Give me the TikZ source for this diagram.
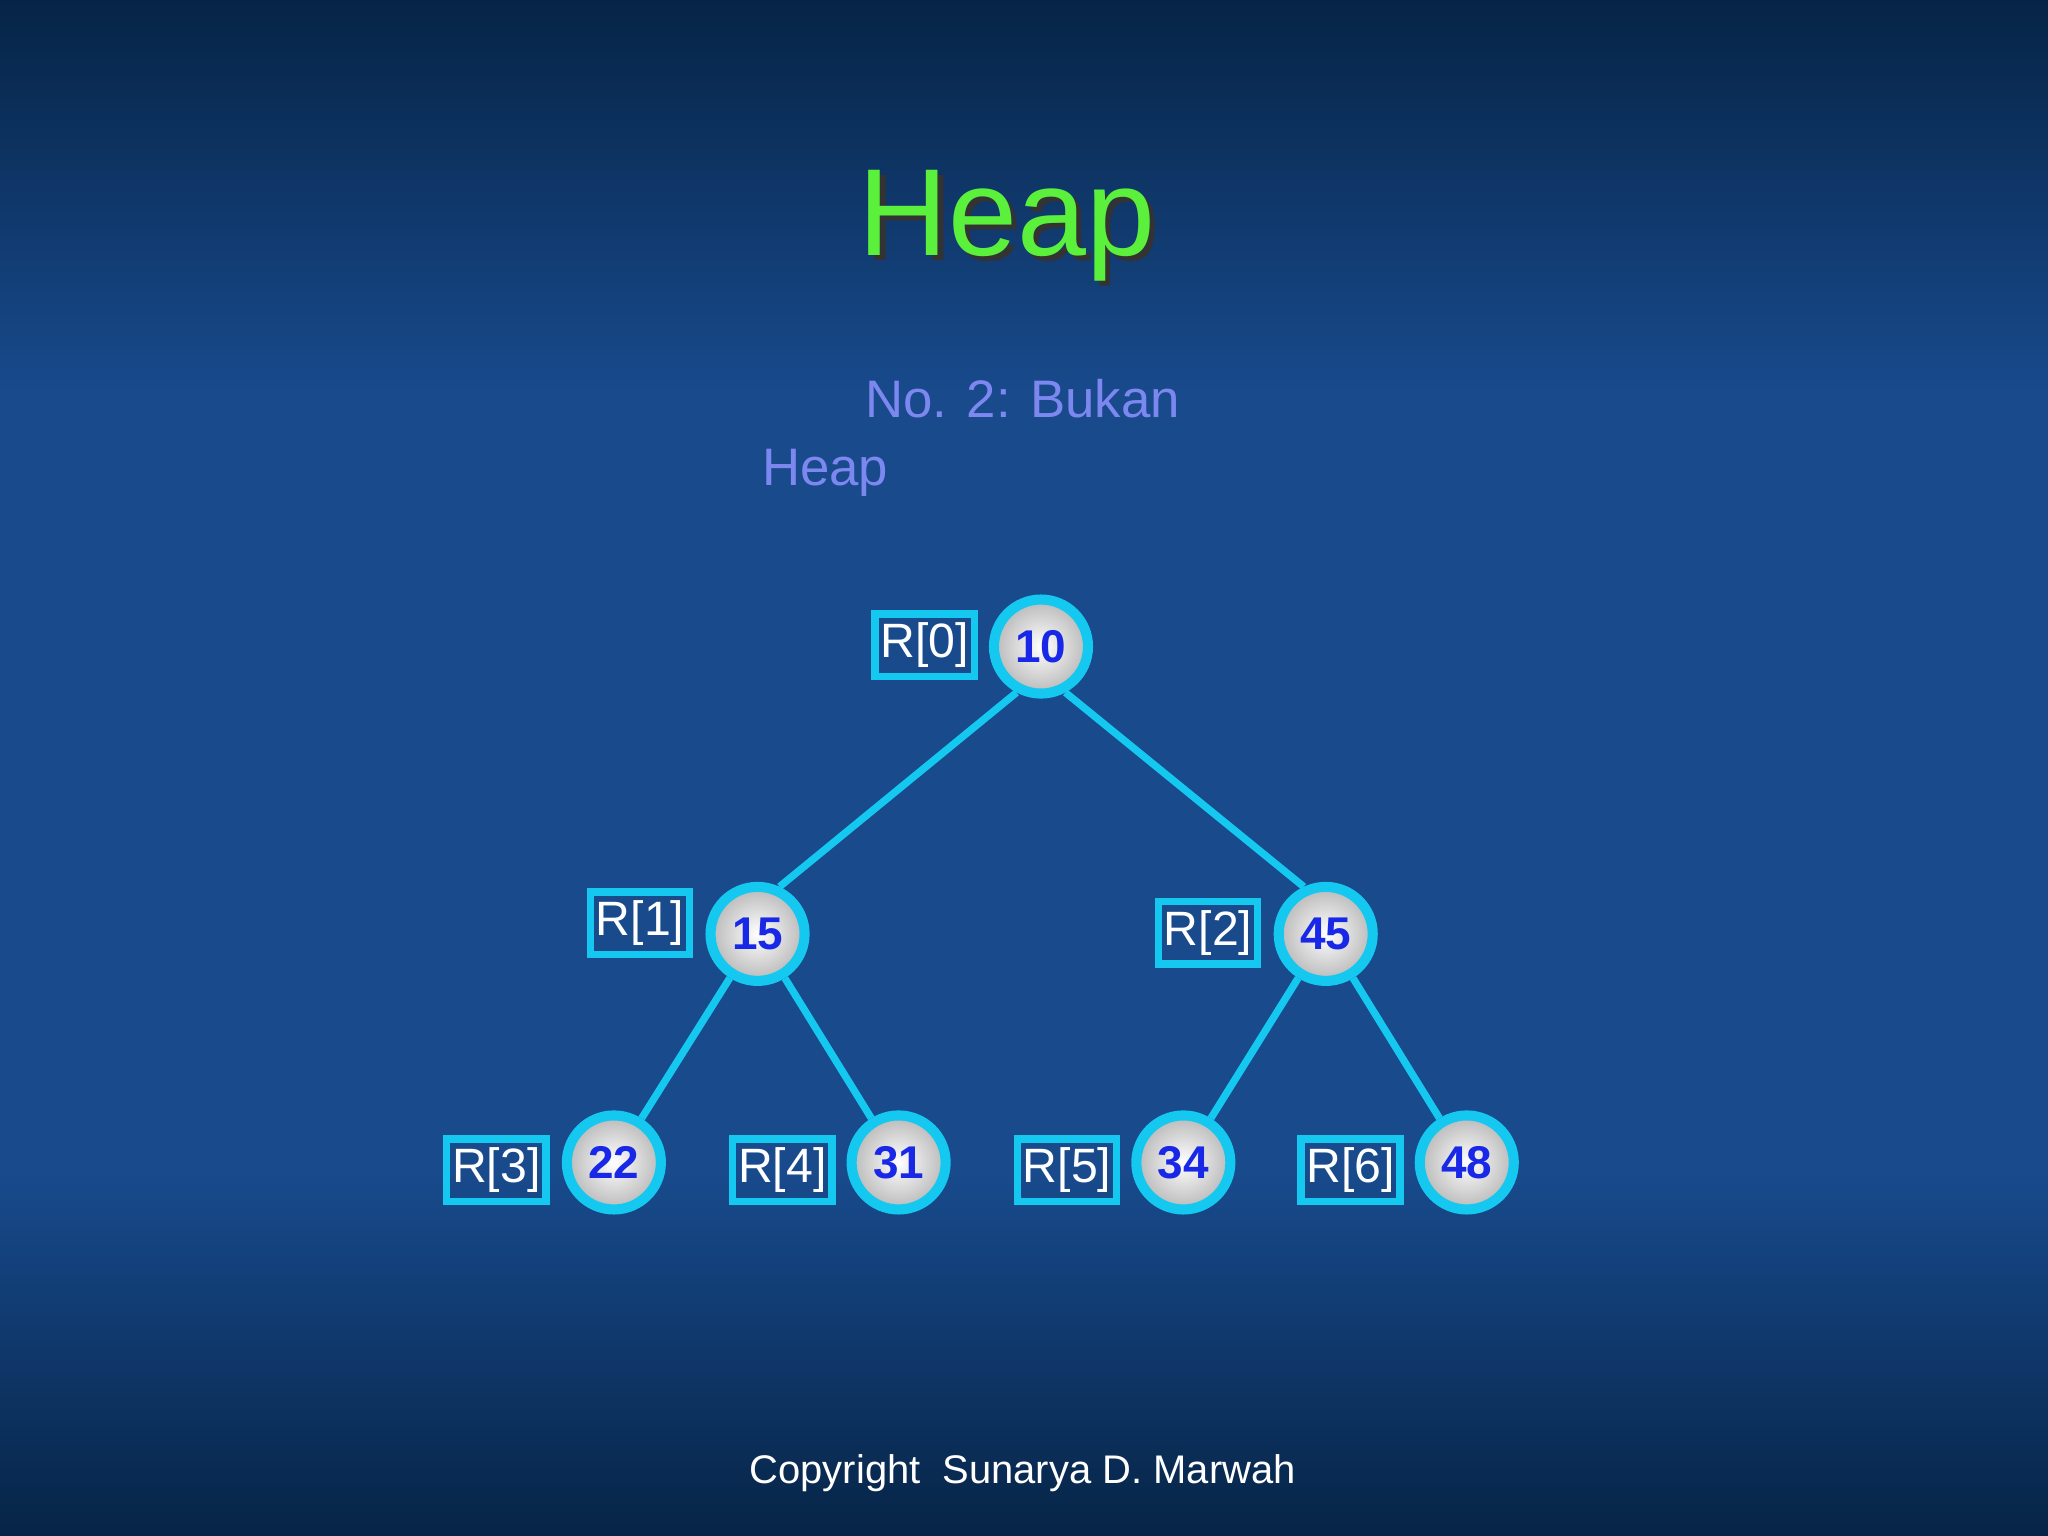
\documentclass[tikz,border=0pt]{standalone}
\usepackage{fontspec}
\setmainfont{Liberation Sans}
\definecolor{bgtop}{RGB}{6,36,70}
\definecolor{bgmid}{RGB}{24,74,140}
\definecolor{cyanl}{RGB}{20,200,240}
\definecolor{titleg}{RGB}{90,240,60}
\definecolor{subc}{RGB}{125,135,240}
\definecolor{numc}{RGB}{25,40,230}
\tikzset{
 hnode/.style={circle,draw=cyanl,line width=2.2pt,minimum size=0.72cm,inner sep=0pt,inner color=white,outer color=gray!55,text=numc,font=\fontsize{10}{10}\selectfont\bfseries},
 rlab/.style={draw=cyanl,line width=1.6pt,minimum width=0.76cm,minimum height=0.48cm,inner sep=1pt,text=white,font=\fontsize{10.5}{10.5}\selectfont},
 edge/.style={cyanl,line width=1.6pt}
}
\begin{document}
\begin{tikzpicture}[x=0.1mm,y=-0.1mm]
\useasboundingbox (0,0) rectangle (1568,1176);
\shade[top color=bgtop,bottom color=bgmid] (0,0) rectangle (1568,300);
\fill[bgmid] (0,299) rectangle (1568,900);
\shade[top color=bgmid,bottom color=bgtop] (0,899) rectangle (1568,1176);
\node[text=black!80,font=\fontsize{27}{27}\selectfont] at (775,177) {Heap};
\node (title) [text=titleg,font=\fontsize{27}{27}\selectfont] at (771,173) {Heap};
\node (s1) [anchor=base west,text=subc,font=\fontsize{11.5}{11.5}\selectfont] at (650,320) {No. 2: Bukan};
\node (s2) [anchor=base west,text=subc,font=\fontsize{11.5}{11.5}\selectfont] at (571,372) {Heap};
\node (n0) [hnode] at (797,495) {10};
\node (n1) [hnode] at (580,715) {15};
\node (n2) [hnode] at (1015,715) {45};
\node (n3) [hnode] at (470,890) {22};
\node (n4) [hnode] at (688,890) {31};
\node (n5) [hnode] at (906,890) {34};
\node (n6) [hnode] at (1123,890) {48};
\draw[edge] (n0.-118) -- (n1.65);
\draw[edge] (n0.-62) -- (n2.115);
\draw[edge] (n1) -- (n3);
\draw[edge] (n1) -- (n4);
\draw[edge] (n2) -- (n5);
\draw[edge] (n2) -- (n6);
\node (r0) [rlab] at (708,494) {R[0]};
\node (r1) [rlab] at (490,707) {R[1]};
\node (r2) [rlab] at (925,714) {R[2]};
\node (r3) [rlab] at (380,896) {R[3]};
\node (r4) [rlab] at (599,896) {R[4]};
\node (r5) [rlab] at (817,896) {R[5]};
\node (r6) [rlab] at (1034,896) {R[6]};
\node (copy) [text=white,font=\fontsize{8.7}{8.7}\selectfont] at (783,1128) {Copyright\ \ Sunarya D. Marwah};
\end{tikzpicture}
\end{document}
